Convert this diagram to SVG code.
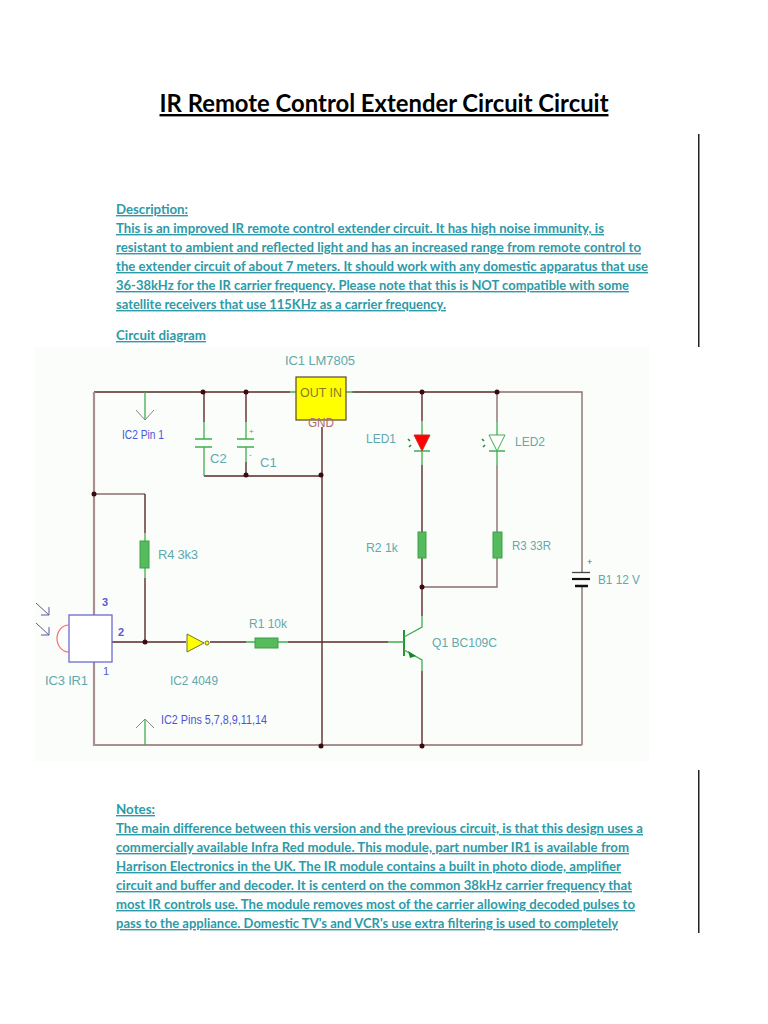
<svg xmlns="http://www.w3.org/2000/svg" width="768" height="1024" viewBox="0 0 768 1024">
<style>
.t{font-family:Lato,"Liberation Sans",sans-serif;font-weight:700;font-size:14px;fill:#2e9aa8;text-decoration:underline}
.title{font-family:Lato,"Liberation Sans",sans-serif;font-weight:700;font-size:24px;fill:#000;text-decoration:underline}
.w{fill:none;stroke:#8a6e6e;stroke-width:1.4}
.wt{fill:none;stroke:#a89090;stroke-width:2.2}
.wd{fill:none;stroke:#5a2a2a;stroke-width:1.4}
.g{fill:none;stroke:#3fae4f;stroke-width:1.3}
.r{fill:#55bb5c;stroke:#3c9f48;stroke-width:1}
.dot{fill:#3a0a12}
.l{font-family:"Liberation Sans",sans-serif;font-size:13px;fill:#63a8ac}
.b{font-family:"Liberation Sans",sans-serif;font-size:12.5px;fill:#4a55d8}
.n{font-family:"Liberation Sans",sans-serif;font-size:11px;fill:#5a5ad0}
</style>
<rect width="768" height="1024" fill="#fff"/>
<text class="title" x="384" y="112" text-anchor="middle" textLength="449" lengthAdjust="spacingAndGlyphs">IR Remote Control Extender Circuit Circuit</text>
<rect x="698" y="134" width="1.5" height="213" fill="#222"/>
<rect x="698" y="770" width="1.5" height="163" fill="#222"/>
<g id="text-top">
<text class="t" x="116" y="214" textLength="72" lengthAdjust="spacingAndGlyphs">Description:</text>
<text class="t" x="116" y="233" textLength="488" lengthAdjust="spacingAndGlyphs">This is an improved IR remote control extender circuit. It has high noise immunity, is</text>
<text class="t" x="116" y="252" textLength="525" lengthAdjust="spacingAndGlyphs">resistant to ambient and reflected light and has an increased range from remote control to</text>
<text class="t" x="116" y="271" textLength="532" lengthAdjust="spacingAndGlyphs">the extender circuit of about 7 meters. It should work with any domestic apparatus that use</text>
<text class="t" x="116" y="290" textLength="513" lengthAdjust="spacingAndGlyphs">36-38kHz for the IR carrier frequency. Please note that this is NOT compatible with some</text>
<text class="t" x="116" y="309" textLength="330" lengthAdjust="spacingAndGlyphs">satellite receivers that use 115KHz as a carrier frequency.</text>
<text class="t" x="116" y="340" textLength="90" lengthAdjust="spacingAndGlyphs">Circuit diagram</text>
</g>
<rect x="34" y="347" width="615" height="414" fill="#fbfdfb"/>
<g id="connectors">
<path class="wd" d="M94 392H290M352 392H497"/>
<path class="w" d="M497 392H582V572M582 586V745"/>
<path class="wt" d="M94 392V615M94 662V745H582"/>
<path class="w" d="M94 494H145"/>
<path class="wd" d="M145 494V533M145 578V642M111 642H186M210 642H246M288 642H388"/>
<path class="wd" d="M204 392V422M246 392V422M204 476H322M322 427V745"/>
<path class="wd" d="M422 392V421M422 465V532M422 558V616M422 671V745"/>
<path class="w" d="M497 392V422M497 465V532M497 558V587H422"/>
</g>
<g id="IC1">
<path class="g" d="M290 392H296M346 392H353"/>
<rect x="296" y="377" width="50" height="43" fill="#ffff00" stroke="#5a4a20" stroke-width="1.2"/>
<text class="l" x="285" y="365" textLength="70" lengthAdjust="spacing">IC1 LM7805</text>
<text x="300" y="397" font-family="Liberation Sans,sans-serif" font-size="13" fill="#8a7a20" textLength="42" lengthAdjust="spacingAndGlyphs">OUT IN</text>
<text x="308" y="427" font-family="Liberation Sans,sans-serif" font-size="12" fill="#b06a6a" textLength="26" lengthAdjust="spacingAndGlyphs">GND</text>
</g>
<g id="C2">
<path class="g" d="M204 422V439M195 439H212M195 447H212M204 447V476" stroke-width="1.5"/>
<text class="l" x="210" y="463">C2</text>
</g>
<g id="C1">
<path class="g" d="M246 422V439M237 439H254M237 447H254M246 447V462" stroke-width="1.5"/>
<path class="wd" d="M246 462V476"/>
<text x="249" y="434" font-family="Liberation Sans,sans-serif" font-size="8" fill="#3fae4f">+</text>
<text x="249" y="457" font-family="Liberation Sans,sans-serif" font-size="8" fill="#3fae4f">-</text>
<text class="l" x="260" y="467">C1</text>
</g>
<g id="IC2-pin1">
<path class="g" d="M145 392V420"/>
<path d="M136 410L145 420L154 410" fill="none" stroke="#888" stroke-width="1"/>
<text class="b" x="122" y="439" textLength="42" lengthAdjust="spacingAndGlyphs">IC2 Pin 1</text>
</g>
<g id="IC2-pins">
<path class="g" d="M145 745V719"/>
<path d="M136 728L145 719L154 728" fill="none" stroke="#888" stroke-width="1"/>
<text class="b" x="161" y="724" textLength="106" lengthAdjust="spacingAndGlyphs">IC2 Pins 5,7,8,9,11,14</text>
</g>
<g id="junctions">
<circle class="dot" cx="94" cy="494" r="2.5"/><circle class="dot" cx="203" cy="392" r="2.5"/><circle class="dot" cx="246" cy="392" r="2.5"/><circle class="dot" cx="246" cy="475" r="2.5"/><circle class="dot" cx="321" cy="475" r="2.5"/><circle class="dot" cx="422" cy="392" r="2.5"/><circle class="dot" cx="497" cy="392" r="2.5"/><circle class="dot" cx="422" cy="587" r="2.5"/><circle class="dot" cx="145" cy="642" r="2.5"/><circle class="dot" cx="321" cy="746" r="2.5"/><circle class="dot" cx="422" cy="746" r="2.5"/>
</g>
<g id="R4"><path class="g" d="M145 533V541M145 568V578"/><rect class="r" x="140" y="541" width="9" height="27"/><text class="l" x="158" y="559" textLength="40" lengthAdjust="spacing">R4 3k3</text></g>
<g id="R1"><path class="g" d="M246 642H255M278 642H288"/><rect class="r" x="255" y="638" width="23" height="10"/><text class="l" x="249" y="628" textLength="38" lengthAdjust="spacingAndGlyphs">R1 10k</text></g>
<g id="R2"><rect class="r" x="418" y="532" width="8" height="26"/><text class="l" x="366" y="552" textLength="32" lengthAdjust="spacingAndGlyphs">R2 1k</text></g>
<g id="R3"><rect class="r" x="493" y="532" width="9" height="26"/><text class="l" x="512" y="550" textLength="39" lengthAdjust="spacingAndGlyphs">R3 33R</text></g>
<g id="LED1">
<path class="g" d="M414 451H430M422 421V435M422 451V465"/>
<path d="M414 435H430L422 451Z" fill="#ff0000" stroke="#c83030"/>
<path d="M408 439L410 441M409 447L411 445" stroke="#2a8a3a" stroke-width="1.6" fill="none"/>
<text class="l" x="366" y="443" textLength="30" lengthAdjust="spacingAndGlyphs">LED1</text>
</g>
<g id="LED2">
<path class="g" d="M489 451H505M497 422V435M497 451V465"/>
<path d="M489 435H505L497 451Z" fill="#fff" stroke="#3fae4f"/>
<path d="M482 439L484 441M483 447L485 445" stroke="#2a8a3a" stroke-width="1.6" fill="none"/>
<text class="l" x="515" y="446" textLength="30" lengthAdjust="spacingAndGlyphs">LED2</text>
</g>
<g id="B1">
<path d="M572 572.5H590" stroke="#444" stroke-width="1.3"/><path d="M572 579H590" stroke="#111" stroke-width="2.2"/><path d="M575 586H588" stroke="#111" stroke-width="2.5"/>
<text x="587" y="565" font-family="Liberation Sans,sans-serif" font-size="9" fill="#666">+</text>
<text class="l" x="598" y="584" textLength="42" lengthAdjust="spacingAndGlyphs">B1 12 V</text>
</g>
<g id="Q1">
<path d="M404 630V656" stroke="#1f9a30" stroke-width="2" fill="none"/>
<path class="g" d="M388 642H404M404 637L422 627V616M404 650L422 660V671"/>
<path d="M408 651L416 656L410 658Z" fill="#108a20"/>
<text class="l" x="432" y="647" textLength="65" lengthAdjust="spacingAndGlyphs">Q1 BC109C</text>
</g>
<g id="IC2-inv">
<path d="M187 634V652L204 643Z" fill="#ffff00" stroke="#6a7a20"/>
<circle cx="207" cy="643" r="2" fill="#ffff00" stroke="#6a7a20"/>
<text class="l" x="170" y="685" textLength="48" lengthAdjust="spacingAndGlyphs">IC2 4049</text>
</g>
<g id="IC3">
<rect x="69" y="615" width="43" height="47" fill="#fff" stroke="#6a6ad0" stroke-width="1.3"/>
<path d="M69 625A12 13.5 0 0 0 69 652" fill="none" stroke="#f07070" stroke-width="1.2"/>
<path d="M36 603L49 615M49 607V615H41M36 623L49 635M49 627V635H41" fill="none" stroke="#5a5a9a" stroke-width="1"/>
<text class="n" x="102" y="606" font-weight="700">3</text>
<text class="n" x="118" y="636" font-weight="700">2</text>
<text class="n" x="103" y="675">1</text>
<text class="l" x="45" y="685" textLength="43" lengthAdjust="spacing">IC3 IR1</text>
</g>
<g id="text-notes">
<text class="t" x="116" y="814" textLength="39" lengthAdjust="spacingAndGlyphs">Notes:</text>
<text class="t" x="116" y="833" textLength="527" lengthAdjust="spacingAndGlyphs">The main difference between this version and the previous circuit, is that this design uses a</text>
<text class="t" x="116" y="852" textLength="513" lengthAdjust="spacingAndGlyphs">commercially available Infra Red module. This module, part number IR1 is available from</text>
<text class="t" x="116" y="871" textLength="505" lengthAdjust="spacingAndGlyphs">Harrison Electronics in the UK. The IR module contains a built in photo diode, amplifier</text>
<text class="t" x="116" y="890" textLength="516" lengthAdjust="spacingAndGlyphs">circuit and buffer and decoder. It is centerd on the common 38kHz carrier frequency that</text>
<text class="t" x="116" y="909" textLength="519" lengthAdjust="spacingAndGlyphs">most IR controls use. The module removes most of the carrier allowing decoded pulses to</text>
<text class="t" x="116" y="928" textLength="502" lengthAdjust="spacingAndGlyphs">pass to the appliance. Domestic TV's and VCR's use extra filtering is used to completely</text>
</g>
</svg>
